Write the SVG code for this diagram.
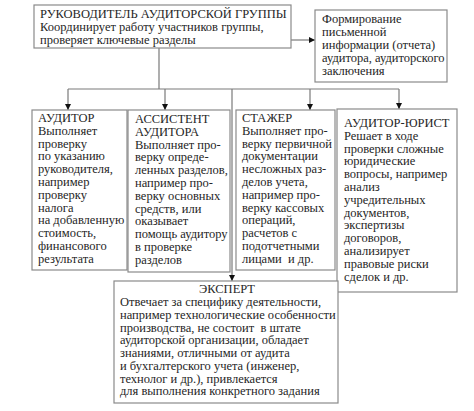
<svg xmlns="http://www.w3.org/2000/svg" width="474" height="411" viewBox="0 0 474 411">
<style>
.box{fill:#fff;stroke:#8a8a8a;stroke-width:1.2}
.t{font-family:"Liberation Serif","Times New Roman",serif;font-size:12.5px;fill:#262626}
.ln{stroke:#7a7a7a;stroke-width:1.2;fill:none}
</style>
<defs>
<marker id="ah" viewBox="0 0 10 10" refX="10" refY="5" markerWidth="6" markerHeight="6" orient="auto" markerUnits="userSpaceOnUse">
<path d="M0,0 L10,5 L0,10 Z" fill="#111"/>
</marker>
</defs>
<rect width="474" height="411" fill="#fff"/>
<g id="connectors">
<path class="ln" d="M159,48 V89 M68,89 H399"/>
<path class="ln" d="M68,89 V110" marker-end="url(#ah)"/>
<path class="ln" d="M165,89 V110" marker-end="url(#ah)"/>
<path class="ln" d="M232,89 V281" marker-end="url(#ah)"/>
<path class="ln" d="M310,89 V110" marker-end="url(#ah)"/>
<path class="ln" d="M399,89 V109" marker-end="url(#ah)"/>
<path class="ln" d="M291,40 H315" marker-end="url(#ah)"/>
</g>
<g id="head">
<rect class="box" x="34" y="5" width="257" height="43"/>
<text class="t" x="40" y="18">РУКОВОДИТЕЛЬ АУДИТОРСКОЙ ГРУППЫ</text>
<text class="t" x="40" y="31">Координирует работу участников группы,</text>
<text class="t" x="40" y="44">проверяет ключевые разделы</text>
</g>
<g id="report">
<rect class="box" x="315" y="10" width="132" height="72"/>
<text class="t" x="322" y="23">Формирование</text>
<text class="t" x="322" y="36">письменной</text>
<text class="t" x="322" y="49">информации (отчета)</text>
<text class="t" x="322" y="62">аудитора, аудиторского</text>
<text class="t" x="322" y="75">заключения</text>
</g>
<g id="auditor">
<rect class="box" x="32" y="110" width="95" height="160"/>
<text class="t" x="38">
<tspan x="38" y="122">АУДИТОР</tspan>
<tspan x="38" dy="12.8">Выполняет</tspan>
<tspan x="38" dy="12.8">проверку</tspan>
<tspan x="38" dy="12.8">по указанию</tspan>
<tspan x="38" dy="12.8">руководителя,</tspan>
<tspan x="38" dy="12.8">например</tspan>
<tspan x="38" dy="12.8">проверку</tspan>
<tspan x="38" dy="12.8">налога</tspan>
<tspan x="38" dy="12.8">на добавленную</tspan>
<tspan x="38" dy="12.8">стоимость,</tspan>
<tspan x="38" dy="12.8">финансового</tspan>
<tspan x="38" dy="12.8">результата</tspan>
</text>
</g>
<g id="assistant">
<rect class="box" x="128" y="110" width="102" height="162"/>
<text class="t">
<tspan x="135" y="123">АССИСТЕНТ</tspan>
<tspan x="135" dy="12.8">АУДИТОРА</tspan>
<tspan x="135" dy="12.8">Выполняет про-</tspan>
<tspan x="135" dy="12.8">верку опреде-</tspan>
<tspan x="135" dy="12.8">ленных разделов,</tspan>
<tspan x="135" dy="12.8">например про-</tspan>
<tspan x="135" dy="12.8">верку основных</tspan>
<tspan x="135" dy="12.8">средств, или</tspan>
<tspan x="135" dy="12.8">оказывает</tspan>
<tspan x="135" dy="12.8">помощь аудитору</tspan>
<tspan x="135" dy="12.8">в проверке</tspan>
<tspan x="135" dy="12.8">разделов</tspan>
</text>
</g>
<g id="trainee">
<rect class="box" x="236" y="110" width="99" height="160"/>
<text class="t">
<tspan x="242" y="122">СТАЖЕР</tspan>
<tspan x="242" dy="12.8">Выполняет про-</tspan>
<tspan x="242" dy="12.8">верку первичной</tspan>
<tspan x="242" dy="12.8">документации</tspan>
<tspan x="242" dy="12.8">несложных раз-</tspan>
<tspan x="242" dy="12.8">делов учета,</tspan>
<tspan x="242" dy="12.8">например про-</tspan>
<tspan x="242" dy="12.8">верку кассовых</tspan>
<tspan x="242" dy="12.8">операций,</tspan>
<tspan x="242" dy="12.8">расчетов с</tspan>
<tspan x="242" dy="12.8">подотчетными</tspan>
<tspan x="242" dy="12.8" xml:space="preserve">лицами  и др.</tspan>
</text>
</g>
<g id="lawyer">
<rect class="box" x="337" y="109" width="120" height="183"/>
<text class="t">
<tspan x="344" y="127">АУДИТОР-ЮРИСТ</tspan>
<tspan x="344" dy="12.8">Решает в ходе</tspan>
<tspan x="344" dy="12.8">проверки сложные</tspan>
<tspan x="344" dy="12.8">юридические</tspan>
<tspan x="344" dy="12.8">вопросы, например</tspan>
<tspan x="344" dy="12.8">анализ</tspan>
<tspan x="344" dy="12.8">учредительных</tspan>
<tspan x="344" dy="12.8">документов,</tspan>
<tspan x="344" dy="12.8">экспертизы</tspan>
<tspan x="344" dy="12.8">договоров,</tspan>
<tspan x="344" dy="12.8">анализирует</tspan>
<tspan x="344" dy="12.8">правовые риски</tspan>
<tspan x="344" dy="12.8">сделок и др.</tspan>
</text>
</g>
<g id="expert">
<rect class="box" x="114" y="281" width="224" height="122"/>
<text class="t" x="227" y="293" text-anchor="middle">ЭКСПЕРТ</text>
<text class="t">
<tspan x="120" y="306">Отвечает за специфику деятельности,</tspan>
<tspan x="120" dy="12.75">например технологические особенности</tspan>
<tspan x="120" dy="12.75" xml:space="preserve">производства, не состоит  в штате</tspan>
<tspan x="120" dy="12.75">аудиторской организации, обладает</tspan>
<tspan x="120" dy="12.75">знаниями, отличными от аудита</tspan>
<tspan x="120" dy="12.75">и бухгалтерского учета (инженер,</tspan>
<tspan x="120" dy="12.75">технолог и др.), привлекается</tspan>
<tspan x="120" dy="12.75">для выполнения конкретного задания</tspan>
</text>
</g>
</svg>
